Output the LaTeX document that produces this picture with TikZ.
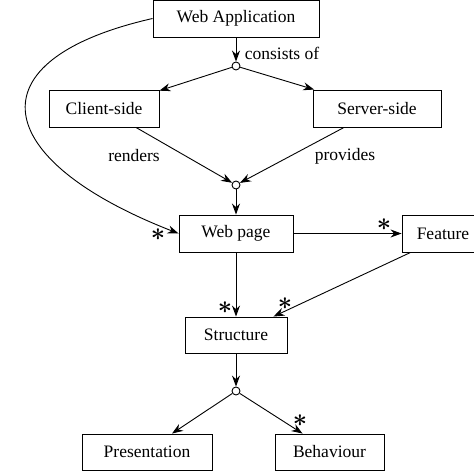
\documentclass[tikz,border=0pt]{standalone}
\usepackage{fontspec}
\setmainfont{Liberation Serif}
\usetikzlibrary{shapes, arrows.meta, positioning, calc}

\tikzset{
	box/.style={draw, rectangle, minimum height=37pt, inner sep=0pt},
	dot/.style={draw, circle, fill=white, minimum size=8pt, inner sep=0pt},
	lbl/.style={inner sep=0pt},
	star/.style={inner sep=0pt, font=\fontsize{26}{26}\selectfont\boldmath},
	link/.style={-{Stealth[length=11pt,width=8pt]}},
}

\begin{document}
\begin{tikzpicture}[x=1pt, y=-1pt, line width=0.9pt, font=\fontsize{17.5}{21}\selectfont]
		\useasboundingbox (0,0) rectangle (474,474);
		\node[box, minimum width=166pt] (app) at (236,18.5) {Web Application};
		\node[dot] (j1) at (236,66) {};
			\node[box, minimum width=110pt] (client) at (104,108.5) {Client-side};
			\node[box, minimum width=128pt] (server) at (377,108.5) {Server-side};
		\node[dot] (j2) at (236,185) {};
		\node[box, minimum width=114pt] (page) at (236,233.5) {Web page};
			\node[box, minimum width=82pt] (feature) at (443,233.5) {Feature};
		\node[box, minimum width=102pt, minimum height=36pt] (struct) at (236,335) {Structure};
		\node[dot] (j3) at (236,391) {};
			\node[box, minimum width=130pt, minimum height=36pt] (pres) at (147,452) {Presentation};
			\node[box, minimum width=109pt, minimum height=36pt] (behav) at (329.5,452) {Behaviour};

		% labels
		\node[lbl] (consists) at (282,53) {consists of};
		\node[lbl] (renders) at (134,156) {renders};
		\node[lbl] (provides) at (345,156) {provides};

		% connectors
		\draw[link] (app) -- (j1);
		\foreach \to in {client,server}
			\draw[link] (j1) -- (\to);
		\draw[link] ($(client.south)+(32,0)$) -- (j2);
		\draw[link] ($(server.south)+(-33,0)$) -- (j2);
		\draw[link] (j2) -- (page);
		\draw[link] (app.west) .. controls (-30,60) and (-10,160) .. (page.west);
		\draw[link] (page) -- (feature);
		\draw[link] (page) -- (struct);
		\draw[link] ($(feature.south west)+(9,0)$) -- ($(struct.north east)+(-14,0)$);
		\draw[link] (struct) -- (j3);
		\draw[link] (j3) -- ($(pres.north)+(25,0)$);
		\draw[link] (j3) -- ($(behav.north west)+(28,0)$);

		% multiplicities
		\node[star] (s1) at (158,235) {$\ast$};
		\node[star] (s2) at (384,225) {$\ast$};
		\node[star] (s3) at (225,308) {$\ast$};
		\node[star] (s4) at (285,304) {$\ast$};
		\node[star] (s5) at (300,421) {$\ast$};
	\end{tikzpicture}
\end{document}
